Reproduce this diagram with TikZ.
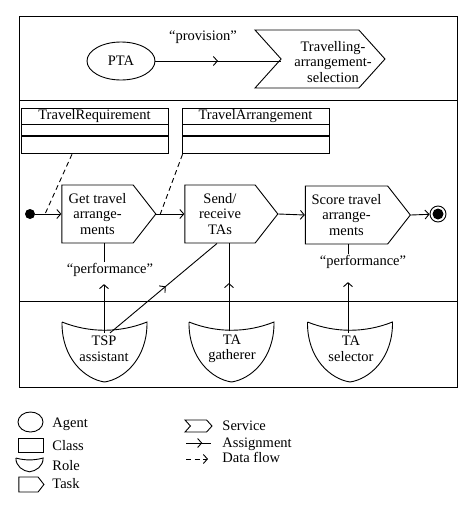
\documentclass[tikz,border=0pt]{standalone}
\usepackage{fontspec}
\setmainfont{Liberation Serif}
\usepackage{tikz}
\usetikzlibrary{arrows.meta,decorations.markings,shapes.geometric,shapes.symbols,positioning}
\tikzstyle{every node}=[font=\fontsize{14.5}{15.5}\selectfont, inner sep=1pt, align=center]
\tikzset{>={Straight Barb[length=4pt,width=9pt]},
  ->-/.style={decoration={
      markings,
      mark=at position #1 with {\arrow{>}}},postaction={decorate}},
  ->-/.default=.5}
\tikzstyle{agent}=[ellipse, draw, inner sep=0pt]
\tikzstyle{task}=[signal, signal to=east, signal pointer angle=104, draw, minimum height=58pt]
\tikzstyle{service}=[signal, signal from=west, signal to=east, signal pointer angle=96, draw]
\tikzstyle{classrow}=[rectangle, draw, minimum width=147pt]
\tikzstyle{dataflow}=[dash pattern=on 5pt off 3.5pt]
\tikzset{rolecup/.pic={
    \draw (-42.5,0) .. controls (-15,11) and (15,11) .. (42.5,0)
      .. controls (43,36) and (20,57) .. (0,60)
      .. controls (-20,57) and (-43,36) .. (-42.5,0);}}
\begin{document}
\begin{tikzpicture}[x=1pt,y=-1pt,line width=0.9pt]
  \useasboundingbox (0,0) rectangle (474,509);
  % panels
  \draw (19,16) rectangle (457,387);
  \draw (19,100) -- (457,100);
  \draw (19,301) -- (457,301);
  % provision
  \node[agent, minimum width=68pt, minimum height=38pt] (pta) at (121,61) {PTA};
  \node[service, minimum width=130pt, minimum height=58pt] (serv) at (320,59) {};
  \node (servtxt) at (333,62) {Travelling-\\arrangement-\\selection};
  \node (prov) at (203,37) {``provision''};
  \draw[->-] (pta) -- (pta -| serv.west);
  % classes
  \node[classrow, minimum height=16pt] (treq) at (94.5,116) {TravelRequirement};
  \node[classrow, minimum height=11pt, below=0pt of treq] (treq2) {};
  \node[classrow, minimum height=17pt, below=0pt of treq2] (treq3) {};
  \node[classrow, minimum height=16pt] (tarr) at (255.5,116) {TravelArrangement};
  \node[classrow, minimum height=11pt, below=0pt of tarr] (tarr2) {};
  \node[classrow, minimum height=17pt, below=0pt of tarr2] (tarr3) {};
  % tasks
  \node[circle, fill, inner sep=0pt, minimum size=10pt] (init) at (30,214) {};
  \node[task, minimum width=94pt] (get) at (97.5,214) {Get travel\\arrange-\\ments};
  \node[task, minimum width=93pt] (send) at (220,214) {Send/\\receive\\TAs};
  \node[task, minimum width=105pt] (score) at (346.5,215) {Score travel\\arrange-\\ments};
  \node[circle, draw, inner sep=0pt, minimum size=16pt] (final) at (438,214) {};
  \fill (final.center) circle (5.5pt);
  \draw[->] (init) -- coordinate[pos=.37] (df1) (get.west);
  \draw[->] (get.east) -- coordinate[pos=.14] (df2) (send.west);
  \draw[->] (send.east) -- (score.west);
  \draw[->] (score.east) -- (final);
  \draw[dataflow] ([xshift=-22.5pt]treq3.south) -- (df1);
  \draw[dataflow] ([xshift=1pt]tarr3.south west) -- (df2);
  \node (perf1) at (110,270) {``performance''};
  \node (perf2) at (363,262) {``performance''};
  % roles
  \pic at (104.5,322) {rolecup};
  \pic at (231.5,322) {rolecup};
  \pic at (350,322) {rolecup};
  \node (tsp) at (104,349) {TSP\\assistant};
  \node (gath) at (232,349) {TA\\gatherer};
  \node (sel) at (351,349) {TA\\selector};
  \coordinate (tspt) at ([yshift=2pt]tsp.north);
  \coordinate (gatht) at ([xshift=-3pt,yshift=2pt]gath.north);
  \coordinate (selt) at ([xshift=-3pt,yshift=2pt]sel.north);
  \draw (get.south -| tspt) -- (perf1.north -| tspt);
  \draw[->, shorten >=6pt] (tspt) -- (perf1.south -| tspt);
  \draw[->-=.52] ([xshift=6pt]tspt) -- ([xshift=-3pt]send.south);
  \draw[->-=.55] (gatht) -- (gatht |- send.south);
  \draw (selt |- score.south) -- (selt |- perf2.north);
  \draw[->, shorten >=12pt] (selt) -- (selt |- perf2.south);
  % legend
  \node[agent, minimum width=25pt, minimum height=20pt] (legagent) at (30.5,422) {};
  \node[anchor=base west] (legagenttxt) at (51,427) {Agent};
  \node[draw, minimum width=25pt, minimum height=14pt] (legclass) at (30.5,445) {};
  \node[anchor=base west] (legclasstxt) at (51,450) {Class};
  \pic[xscale=.32, yscale=.23] at (29.5,458) {rolecup};
  \node[anchor=base west] (legroletxt) at (51,470) {Role};
  \node[task, minimum width=25pt, minimum height=15pt, inner sep=0pt] (legtask) at (28.5,484.5) {};
  \node[anchor=base west] (legtasktxt) at (51,488) {Task};
  \node[service, minimum width=27pt, minimum height=12pt, inner sep=0pt] (legserv) at (198.5,426) {};
  \node[anchor=base west] (legservtxt) at (221,430) {Service};
  \coordinate (asgA) at (186,443);
  \coordinate (asgB) at (211,443);
  \draw[->-=.65] (asgA) -- (asgB);
  \node[anchor=base west] (legasgtxt) at (221,447) {Assignment};
  \coordinate (dfA) at (186,459);
  \coordinate (dfB) at (208,459);
  \draw[dataflow, ->] (dfA) -- (dfB);
  \node[anchor=base west] (legdftxt) at (221,462) {Data flow};
\end{tikzpicture}
\end{document}
